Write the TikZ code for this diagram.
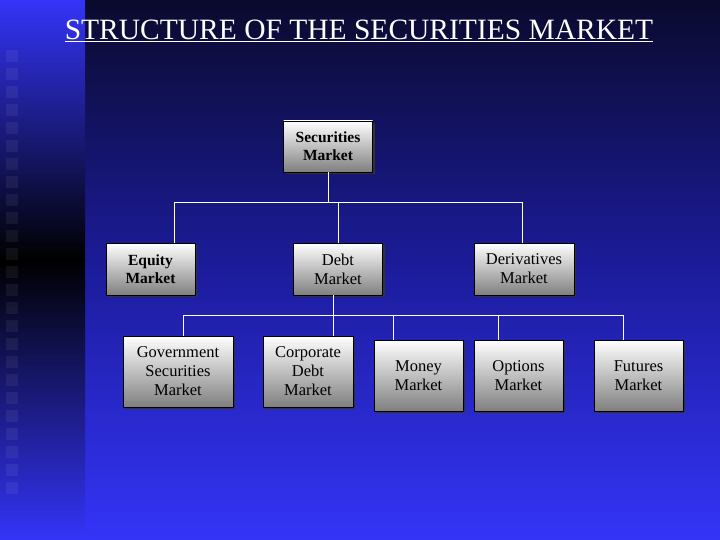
\documentclass[tikz,border=0pt]{standalone}
\usepackage{fontspec}
\setmainfont{Liberation Serif}
\usetikzlibrary{shadows}
\definecolor{bright}{HTML}{3434F8}
\definecolor{mid}{HTML}{1C1C9C}
\definecolor{topdark}{HTML}{0A0A2E}
\tikzset{
 box/.style={draw=black,line width=0.8pt,left color=white,right color=gray,
   shading angle=0,drop shadow={shadow xshift=2pt,shadow yshift=-2pt,fill=black!80,opacity=1},
   align=center,font=\fontsize{16.5}{19}\selectfont,inner sep=0pt},
 wire/.style={draw=white,line width=0.8pt}
}
\begin{document}
\begin{tikzpicture}[x=1pt,y=-1pt]
\useasboundingbox (0,0) rectangle (720,540);
% backgrounds
\shade[top color=topdark,bottom color=bright,middle color=mid] (85,0) rectangle (720,540);
\shade[top color=bright,bottom color=black] (0,0) rectangle (85,260);
\shade[top color=black,bottom color=bright] (0,260) rectangle (85,540);
\foreach \i in {0,...,24}{
 \fill[white,opacity=0.06] (6,{50+\i*18}) rectangle (18,{62+\i*18});
}
% title
\node[text=white,font=\fontsize{29.5}{32}\selectfont] (title) at (359,31) {\underline{STRUCTURE OF THE SECURITIES MARKET}};
% boxes
\node[box,minimum width=89,minimum height=51,font=\fontsize{15.5}{18}\selectfont\bfseries] (sec) at (328,146.5) {Securities\\Market};
\node[box,minimum width=89,minimum height=52,font=\fontsize{15.5}{18}\selectfont\bfseries] (eq) at (150.5,269) {Equity\\Market};
\node[box,minimum width=89,minimum height=52] (debt) at (338,269) {Debt\\Market};
\node[box,minimum width=100,minimum height=52] (der) at (524,269) {Derivatives\\Market};
\node[box,minimum width=110,minimum height=71] (gov) at (178,371.5) {Government\\Securities\\Market};
\node[box,minimum width=90,minimum height=71] (corp) at (308,371.5) {Corporate\\Debt\\Market};
\node[box,minimum width=89,minimum height=71] (money) at (418.5,375.5) {Money\\Market};
\node[box,minimum width=89,minimum height=71] (opt) at (518.5,375.5) {Options\\Market};
\node[box,minimum width=89,minimum height=71] (fut) at (638.5,375.5) {Futures\\Market};
% connectors
\draw[wire] (sec.south) -- (328,202);
\draw[wire] (eq.north -| 174,0) -- (174,202) -- (522,202) -- (der.north -| 522,0);
\draw[wire] (338,202) -- (debt.north);
\draw[wire] (debt.south -| 333,0) -- (corp.north -| 333,0);
\draw[wire] (gov.north -| 183,0) -- (183,315) -- (623,315) -- (fut.north -| 623,0);
\draw[wire] (393,315) -- (money.north -| 393,0);
\draw[wire] (498,315) -- (opt.north -| 498,0);
\end{tikzpicture}
\end{document}
